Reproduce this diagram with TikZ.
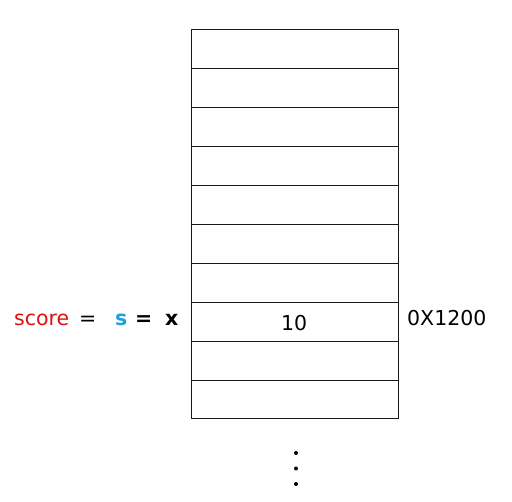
\documentclass[tikz,border=0pt]{standalone}
\usepackage{fontspec}
\setmainfont{DejaVu Sans}
\definecolor{scorered}{HTML}{E01010}
\definecolor{sblue}{HTML}{1EA0DC}
\begin{document}
\begin{tikzpicture}[x=1pt,y=-1pt,
  cellbox/.style={draw=black!90,line width=1.2pt},
  lbl/.style={inner sep=0pt,anchor=base west,font=\fontsize{20.5}{24}\selectfont},
  blbl/.style={lbl,font=\fontsize{20.5}{24}\selectfont\bfseries},
  dotmark/.style={fill=black,circle,inner sep=0pt,minimum size=4pt}]
\useasboundingbox (0,0) rectangle (512,502);
\draw[cellbox] (191.5,29.5) rectangle (398.5,418.5);
\foreach \ya in {68.5,107.5,146.5,185.5,224.5,263.5,302.5,341.5,380.5}{
  \draw[cellbox] (191.5,\ya) -- (398.5,\ya);
}
\node[lbl,text=scorered] (score) at (14,325.7) {score};
\node[lbl] (eq1) at (79,325.7) {=};
\node[blbl,text=sblue] (s) at (115,325.7) {s};
\node[blbl] (eq2) at (135,325.7) {=};
\node[blbl] (x) at (165,325.7) {x};
\node[lbl] (val) at (281,330.7) {10};
\node[lbl] (addr) at (407,326) {0X1200};
\node[dotmark] (d1) at (296,453) {};
\node[dotmark] (d2) at (296,468.5) {};
\node[dotmark] (d3) at (296,484) {};
\end{tikzpicture}
\end{document}
